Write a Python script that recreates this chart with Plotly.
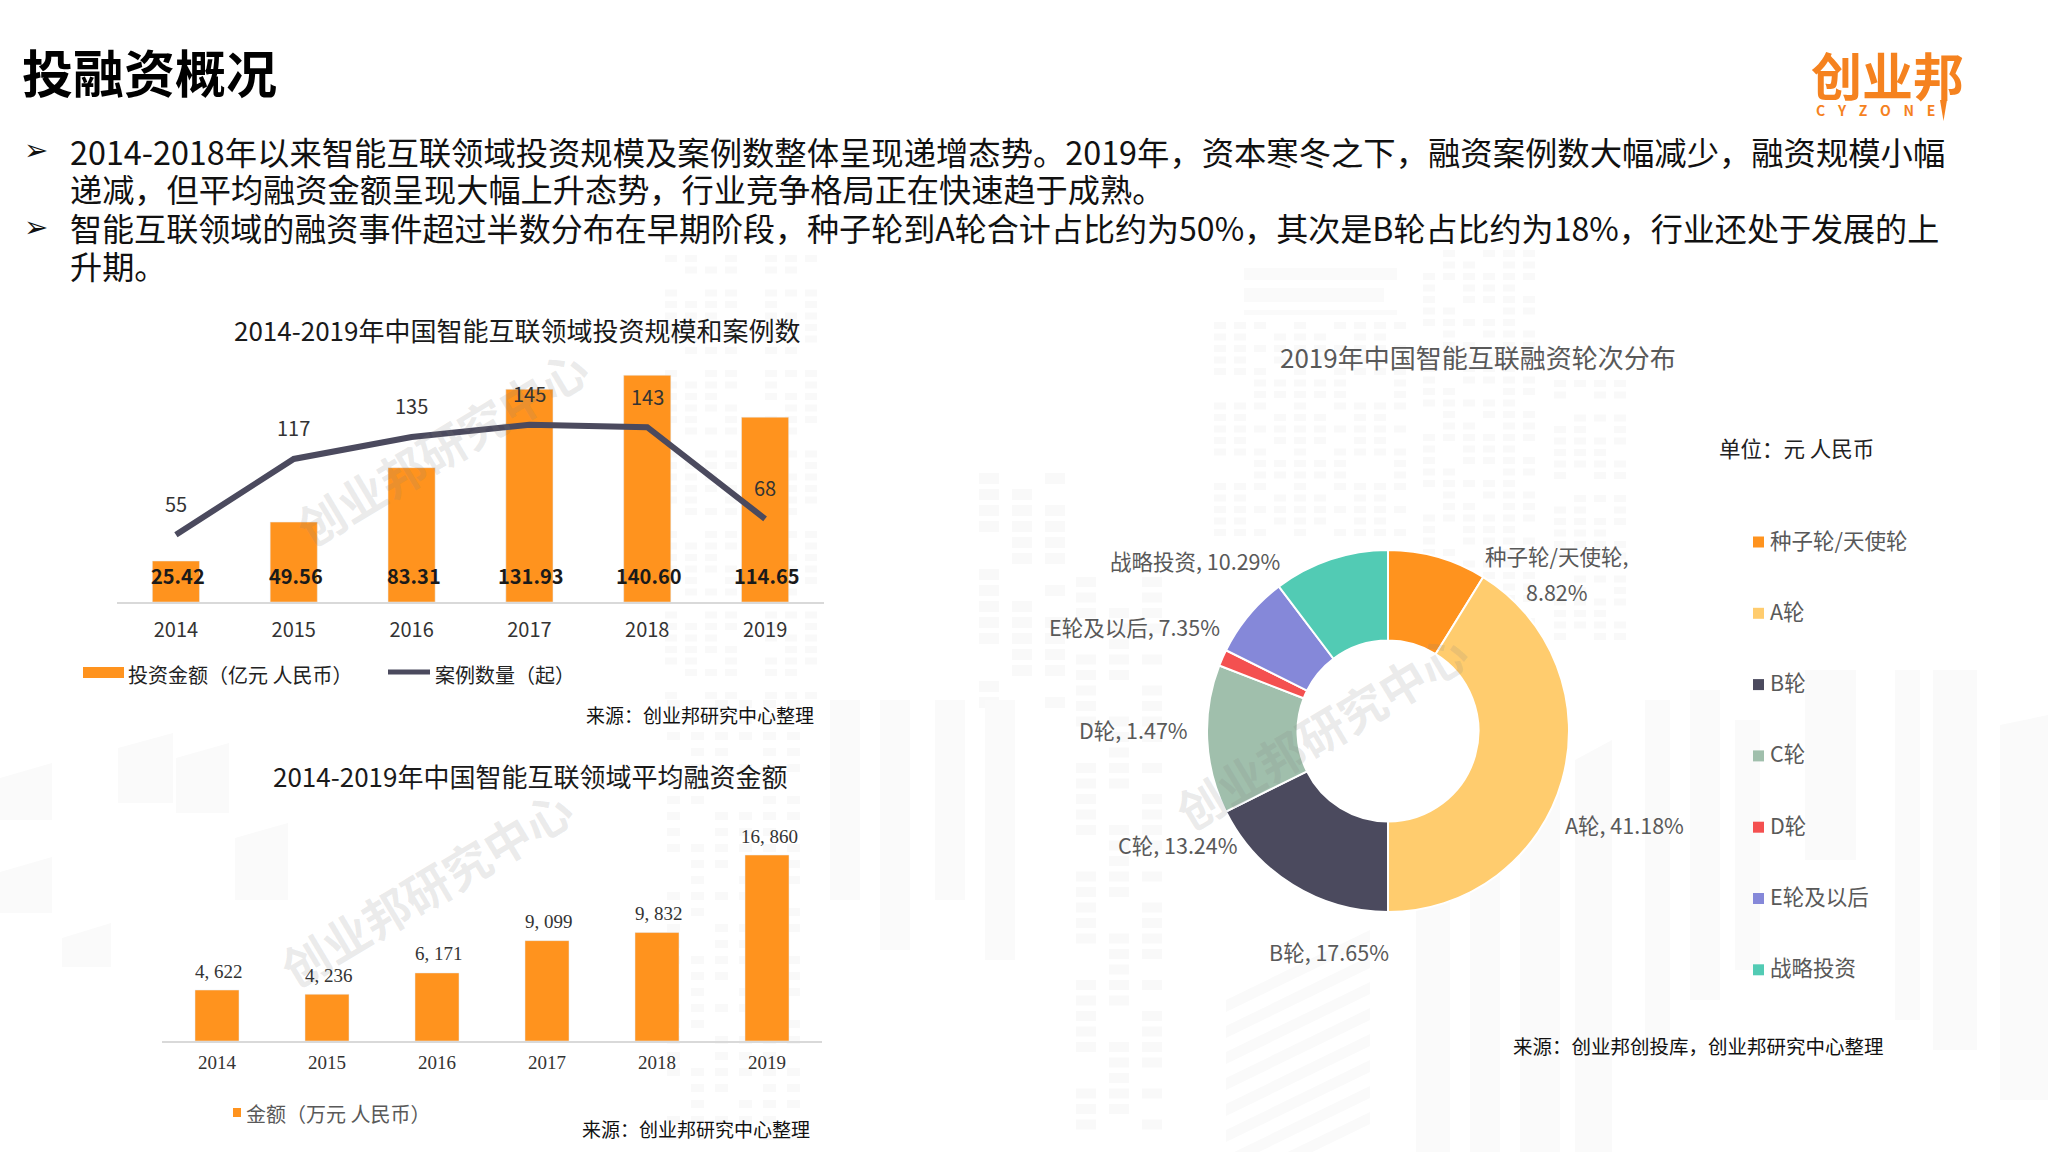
import plotly.graph_objects as go

W, H = 2048, 1152
CJK = "Noto Sans CJK SC"
ORANGE = "#FF931E"
DARK = "#4B4A5E"
GREY = "#595959"
LOGO = "#F5821F"
BG = "#F9F9F9"

years = ["2014", "2015", "2016", "2017", "2018", "2019"]
invest = [25.42, 49.56, 83.31, 131.93, 140.60, 114.65]
cases = [55, 117, 135, 145, 143, 68]
avg_amount = [4622, 4236, 6171, 9099, 9832, 16860]
round_labels = ["种子轮/天使轮", "A轮", "B轮", "C轮", "D轮", "E轮及以后", "战略投资"]
round_shares = [8.82, 41.18, 17.65, 13.24, 1.47, 7.35, 10.29]
round_colors = [ORANGE, "#FFCC6E", DARK, "#A0BFAC", "#F45050", "#8588D9", "#52CBB4"]
body_lines = [
    "2014-2018年以来智能互联领域投资规模及案例数整体呈现递增态势。2019年，资本寒冬之下，融资案例数大幅减少，融资规模小幅",
    "递减，但平均融资金额呈现大幅上升态势，行业竞争格局正在快速趋于成熟。",
    "智能互联领域的融资事件超过半数分布在早期阶段，种子轮到A轮合计占比约为50%，其次是B轮占比约为18%，行业还处于发展的上",
    "升期。",
]


def px(x):
    return x / W


def py(y):
    return 1 - y / H


fig = go.Figure()

fig.add_trace(go.Bar(x=years, y=invest, name="投资金额（亿元 人民币）", marker_color=ORANGE,
                     xaxis="x", yaxis="y", width=0.4))
fig.add_trace(go.Scatter(x=years, y=cases, name="案例数量（起）", mode="lines",
                         line=dict(color=DARK, width=6), xaxis="x", yaxis="y2"))
fig.add_trace(go.Bar(x=years, y=avg_amount, name="金额（万元 人民币）", marker_color=ORANGE,
                     xaxis="x3", yaxis="y3", width=0.4))
fig.add_trace(go.Pie(labels=round_labels, values=round_shares, hole=0.5, sort=False,
                     direction="clockwise", rotation=0, textinfo="none",
                     marker=dict(colors=round_colors, line=dict(color="white", width=2)),
                     domain=dict(x=[px(1207), px(1569)], y=[py(912), py(550)]),
                     showlegend=False))

ann = []


def text(x, y, s, size, color="#1a1a1a", anchor="left", **kw):
    ann.append(dict(x=px(x), y=py(y - 3), xref="paper", yref="paper", text=s, showarrow=False,
                    xanchor=anchor, yanchor="middle",
                    font=dict(family=kw.pop("family", CJK), size=size, color=color), **kw))


# watermarks
for cx, cy in [(441, 450), (425, 890), (1320, 733)]:
    text(cx, cy, "<b>创业邦研究中心</b>", 47, "rgba(130,130,130,0.17)", "center", textangle=-31)

# heading
text(20, 74, "<b>投融资概况</b>", 51, "#000000")
text(1887, 77, "<b>创业邦</b>", 51, LOGO, "center")
text(1875, 113, "<b>C    Y    Z    O    N    E</b>", 14, LOGO, "center")

for yy, line, size in zip([153, 191, 230, 268], body_lines, [32.35, 32.2, 32.05, 32.2]):
    text(68, yy, line, size, "#111111")
for yy in [153, 230]:
    text(22, yy, "➢", 29, "#111111", family="DejaVu Sans")

# chart titles
text(517, 332, "2014-2019年中国智能互联领域投资规模和案例数", 26, anchor="center")
text(530, 778, "2014-2019年中国智能互联领域平均融资金额", 26, anchor="center")
text(1478, 360, "2019年中国智能互联融资轮次分布", 26, GREY, "center")
text(1796, 451, "单位：元 人民币", 21.5, "#222222", "center")

# data labels chart 1
for i, v in enumerate(invest):
    ann.append(dict(x=i, y=0, xref="x", yref="y", text=f"<b>{v:.2f}</b>", showarrow=False,
                    yanchor="middle", yshift=27, xshift=2, font=dict(family=CJK, size=20, color="#1a1a1a")))
for i, v in enumerate(cases):
    ann.append(dict(x=i, y=v, xref="x", yref="y2", text=str(v), showarrow=False,
                    yanchor="middle", yshift=31, font=dict(family=CJK, size=20, color="#333333")))
# data labels chart 2
for i, v in enumerate(avg_amount):
    ann.append(dict(x=i, y=v, xref="x3", yref="y3", text=f"{v:,}".replace(",", ", "), showarrow=False,
                    yanchor="middle", yshift=19, xshift=2, font=dict(family="Liberation Serif", size=19, color="#333333")))


def rect_path(x0, y0, x1, y1, slant=0):
    return (f"M{px(x0)},{py(y0 + slant)} L{px(x1)},{py(y0)} L{px(x1)},{py(y1)} L{px(x0)},{py(y1)} Z ")


def grid(x0, x1, y0, y1, dx, dy, w, h, seed):
    parts = []
    j = 0
    y = y0
    while y < y1:
        i = 0
        x = x0
        while x < x1:
            if (i * 5 + j * 3 + seed + i * j) % 7 not in (0, 4):
                parts.append(rect_path(x, y, x + w, y + h))
            x += dx
            i += 1
        y += dy
        j += 1
    return dict(type="path", xref="paper", yref="paper", layer="below", path="".join(parts),
                fillcolor=BG, line_width=0)


shapes = [
    grid(665, 819, 255, 693, 20, 11.5, 12, 7, 1),
    grid(667, 804, 700, 1140, 24, 16, 13, 8, 2),
    grid(1214, 1397, 322, 535, 20, 11.5, 12, 7, 3),
    grid(1423, 1541, 250, 620, 20, 11.5, 12, 7, 4),
    grid(1554, 1624, 380, 640, 20, 11.5, 12, 7, 5),
    grid(979, 1061, 473, 700, 33, 16, 20, 11, 6),
    grid(1076, 1158, 577, 1130, 33, 15.5, 20, 10, 2),
]
blocks = [(1244, 268, 1397, 280, 0), (1244, 288, 1384, 302, 0), (1244, 310, 1397, 315, 0),
          (0, 763, 52, 820, 15), (118, 733, 173, 803, 15), (176, 743, 229, 813, 15),
          (235, 823, 288, 900, 15), (62, 923, 111, 967, 15), (0, 857, 52, 913, 15),
          (1416, 800, 1450, 1152, 20), (1470, 780, 1500, 1152, 20), (1520, 760, 1560, 1152, 20),
          (1575, 740, 1612, 1152, 20), (1645, 700, 1670, 1060, 0), (1690, 690, 1720, 1000, 0),
          (1735, 720, 1760, 970, 0), (1805, 670, 1856, 860, 0), (1895, 670, 1920, 1020, 0),
          (1933, 670, 1977, 1050, 0), (2000, 715, 2048, 1100, 10),
          (830, 700, 860, 900, 0), (880, 700, 910, 950, 0), (935, 700, 965, 900, 0), (985, 700, 1015, 960, 0)]
shapes.append(dict(type="path", xref="paper", yref="paper", layer="below",
                   path="".join(rect_path(*b) for b in blocks), fillcolor="#FAFAFA", line_width=0))
stripes = ""
for k in range(8):
    yb = 1000 + k * 26
    stripes += (f"M{px(1226)},{py(yb)} L{px(1370)},{py(yb - 70)} L{px(1370)},{py(yb - 58)} "
                f"L{px(1226)},{py(yb + 12)} Z ")
shapes.append(dict(type="path", xref="paper", yref="paper", layer="below", path=stripes,
                   fillcolor="#FAFAFA", line_width=0))

# chart legends
shapes += [
    dict(type="rect", xref="paper", yref="paper", x0=px(83), x1=px(124), y0=py(678), y1=py(667),
         fillcolor=ORANGE, line_width=0),
    dict(type="line", xref="paper", yref="paper", x0=px(388), x1=px(430), y0=py(672), y1=py(672),
         line=dict(color=DARK, width=5)),
    dict(type="rect", xref="paper", yref="paper", x0=px(233), x1=px(241), y0=py(1117), y1=py(1108),
         fillcolor=ORANGE, line_width=0),
    dict(type="path", xref="paper", yref="paper",
         path=f"M{px(1940)},{py(100)} L{px(1947)},{py(100)} L{px(1943.5)},{py(121)} Z",
         fillcolor=LOGO, line_width=0),
]
text(126, 677, "投资金额（亿元 人民币）", 20, "#222222")
text(433, 677, "案例数量（起）", 20, "#222222")
text(244, 1116, "金额（万元 人民币）", 20, GREY)

# pie legend
for yy, lab, col in zip([542, 613.3, 684.6, 755.9, 827.2, 898.5, 969.8], round_labels, round_colors):
    shapes.append(dict(type="rect", xref="paper", yref="paper", x0=px(1753), x1=px(1764),
                       y0=py(yy + 5.5), y1=py(yy - 5.5), fillcolor=col, line_width=0))
    text(1768, yy, lab, 21.5, GREY)

# pie labels
lab_pos = [(1556.6, 558.5), (1624, 827.5), (1329, 954), (1178, 847.5), (1133, 732.5), (1134, 629), (1195, 563)]
for (lx, ly), lab, v in zip(lab_pos, round_labels, round_shares):
    if lab.startswith("种子"):
        text(lx, ly, f"{lab},", 21.5, GREY, "center")
        text(lx, ly + 36, f"{v:.2f}%", 21.5, GREY, "center")
    else:
        text(lx, ly, f"{lab}, {v:.2f}%", 21.5, GREY, "center")

# sources
text(700, 717, "来源：创业邦研究中心整理", 19, "#111111", "center")
text(696, 1131, "来源：创业邦研究中心整理", 19, "#111111", "center")
text(1698, 1048, "来源：创业邦创投库，创业邦研究中心整理", 19.5, "#111111", "center")

fig.update_layout(
    width=W, height=H, margin=dict(l=0, r=0, t=0, b=0), autosize=False,
    paper_bgcolor="white", plot_bgcolor="rgba(0,0,0,0)", showlegend=False,
    annotations=ann, shapes=shapes,
    xaxis=dict(domain=[px(117), px(824)], type="category", range=[-0.5, 5.5], anchor="y", showgrid=False,
               zeroline=False, showline=True, linecolor="#D9D9D9", linewidth=2, ticks="", ticklabelstandoff=9,
               tickfont=dict(family=CJK, size=20, color="#333333")),
    yaxis=dict(domain=[py(602), py(344)], range=[0, 160], anchor="x", visible=False),
    yaxis2=dict(domain=[py(602), py(344)], range=[0, 211], anchor="x", overlaying="y", visible=False),
    xaxis3=dict(domain=[px(162), px(822)], type="category", range=[-0.5, 5.5], anchor="y3", showgrid=False,
                zeroline=False, showline=True, linecolor="#D9D9D9", linewidth=2, ticks="", ticklabelstandoff=3,
                tickfont=dict(family="Liberation Serif", size=19, color="#333333")),
    yaxis3=dict(domain=[py(1041), py(820)], range=[0, 20036], anchor="x3", visible=False),
)
fig.write_html("out.html", config=dict(displayModeBar=False),
               post_script="document.body.style.margin='0';document.body.style.overflow='hidden';")
